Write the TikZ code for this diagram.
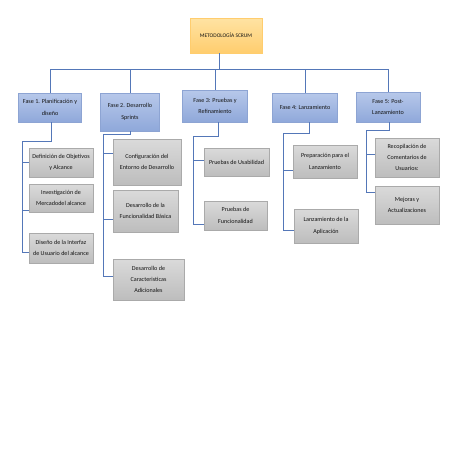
\documentclass[tikz,border=0pt]{standalone}
\usepackage{fontspec}
\setmainfont{Carlito}
\usetikzlibrary{shadows}
\definecolor{conncol}{HTML}{5477B8}
\definecolor{phtop}{HTML}{B7C8EA}
\definecolor{phbot}{HTML}{8FA8DA}
\definecolor{phline}{HTML}{8DA4D3}
\definecolor{chtop}{HTML}{DADADA}
\definecolor{chbot}{HTML}{BDBDBD}
\definecolor{ortop}{HTML}{FFE3A3}
\definecolor{orbot}{HTML}{FFCD6E}
\tikzset{
  boxbase/.style={draw, line width=0.4pt, align=center, inner sep=1pt,
    font=\fontsize{6.1}{11.3}\selectfont, text=black!92,
    drop shadow={shadow xshift=0.8pt, shadow yshift=-0.8pt, opacity=0.25}},
  topbox/.style={boxbase, draw=orbot, top color=ortop, bottom color=orbot,
    font=\fontsize{5.5}{8}\selectfont},
  phasebox/.style={boxbase, draw=phline, top color=phtop, bottom color=phbot},
  childbox/.style={boxbase, draw=chbot!90!black, top color=chtop, bottom color=chbot},
  conn/.style={draw=conncol, line width=0.8pt}
}
\begin{document}
\begin{tikzpicture}[x=1pt,y=-1pt]
\useasboundingbox[fill=white] (0,0) rectangle (453,453);
% top
\node[topbox, minimum width=72pt, minimum height=35pt] (top) at (226,35.5) {METODOLOGÍA SCRUM};
% phases
\node[phasebox, minimum width=63pt, minimum height=29pt] (f1) at (50,107.5) {Fase 1. Planificación y\\diseño};
\node[phasebox, minimum width=59pt, minimum height=38pt] (f2) at (130,112) {Fase 2. Desarrollo\\Sprints};
\node[phasebox, minimum width=65pt, minimum height=32pt] (f3) at (215,106) {Fase 3: Pruebas y\\Refinamiento};
\node[phasebox, minimum width=65pt, minimum height=29pt] (f4) at (305,107.5) {Fase 4: Lanzamiento};
\node[phasebox, minimum width=64pt, minimum height=30pt] (f5) at (388,107) {Fase 5: Post-\\Lanzamiento};
% children
\node[childbox, minimum width=64pt, minimum height=29pt] (c11) at (61,162.5) {Definición de Objetivos\\y Alcance};
\node[childbox, minimum width=64pt, minimum height=28pt] (c12) at (61,198) {Investigación de\\Mercadodel alcance};
\node[childbox, minimum width=64pt, minimum height=30pt] (c13) at (61,248) {Diseño de la Interfaz\\de Usuario del alcance};
\node[childbox, minimum width=68pt, minimum height=46pt] (c21) at (147,162) {Configuración del\\Entorno de Desarrollo};
\node[childbox, minimum width=65pt, minimum height=42pt] (c22) at (145.5,211) {Desarrollo de la\\Funcionalidad Básica};
\node[childbox, minimum width=71pt, minimum height=41pt] (c23) at (148.5,279.5) {Desarrollo de\\Caracteristicas\\Adicionales};
\node[childbox, minimum width=65pt, minimum height=28pt] (c31) at (236.5,162) {Pruebas de Usabilidad};
\node[childbox, minimum width=63pt, minimum height=29pt] (c32) at (235.5,215.5) {Pruebas de\\Funcionalidad};
\node[childbox, minimum width=64pt, minimum height=33pt] (c41) at (325,161.5) {Preparación para el\\Lanzamiento};
\node[childbox, minimum width=64pt, minimum height=34pt] (c42) at (326,226) {Lanzamiento de la\\Aplicación};
\node[childbox, minimum width=64pt, minimum height=39pt] (c51) at (407,157.5) {Recopilación de\\Comentarios de\\Usuarios:};
\node[childbox, minimum width=64pt, minimum height=38pt] (c52) at (407,205) {Mejoras y\\Actualizaciones};
% bar coordinates
\coordinate (bar) at (0,69);
\coordinate (tdrop) at ([xshift=-7pt]top.south);
\foreach \f in {f1,f2,f3,f4,f5}{
  \draw[conn] (tdrop) |- (bar -| \f.north) -- (\f.north);
}
% spine coordinates
\coordinate (s1) at (22,141);
\coordinate (s2) at (103,134);
\coordinate (s3) at (193,136);
\coordinate (s4) at (283,133);
\coordinate (s5) at (366,130);
\draw[conn] ([xshift=1pt]f1.south) |- (s1) |- (c11.west);
\draw[conn] ([xshift=1pt]f1.south) |- (s1) |- ([yshift=-12pt]c12.west);
\draw[conn] ([xshift=1pt]f1.south) |- (s1) |- ([yshift=-4pt]c13.west);
\draw[conn] (f2.south) |- (s2) |- ([yshift=9pt]c21.west);
\draw[conn] (f2.south) |- (s2) |- ([yshift=-8pt]c22.west);
\draw[conn] (f2.south) |- (s2) |- ([yshift=3.5pt]c23.west);
\draw[conn] ([xshift=3pt]f3.south) |- (s3) |- ([yshift=2pt]c31.west);
\draw[conn] ([xshift=3pt]f3.south) |- (s3) |- ([yshift=-8.5pt]c32.west);
\draw[conn] ([xshift=4pt]f4.south) |- (s4) |- ([yshift=-8.5pt]c41.west);
\draw[conn] ([xshift=4pt]f4.south) |- (s4) |- ([yshift=-4pt]c42.west);
\draw[conn] ([xshift=1pt]f5.south) |- (s5) |- ([yshift=3.5pt]c51.west);
\draw[conn] ([xshift=1pt]f5.south) |- (s5) |- ([yshift=13pt]c52.west);
\end{tikzpicture}
\end{document}
